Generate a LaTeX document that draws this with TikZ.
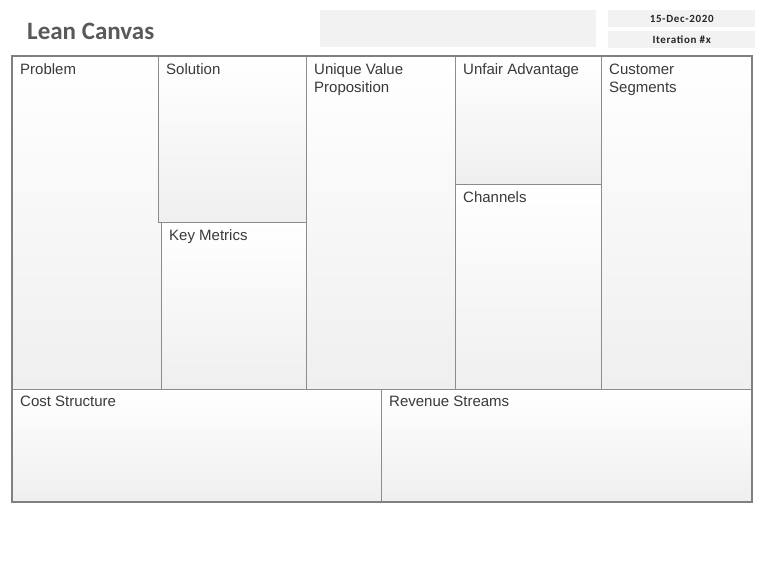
\documentclass[tikz,border=0pt]{standalone}
\usepackage{fontspec}
\setmainfont{Liberation Sans}
\newfontfamily\titlefont{Carlito}
\newfontfamily\headfont[LetterSpace=6]{Carlito}
\usetikzlibrary{positioning}

\definecolor{linegray}{HTML}{8C8C8C}
\definecolor{framegray}{HTML}{808080}
\definecolor{textgray}{HTML}{3A3A3A}
\definecolor{titlegray}{HTML}{595959}
\definecolor{boxgray}{HTML}{F2F2F2}
\definecolor{shadegray}{HTML}{EFEFEF}

\begin{document}
\begin{tikzpicture}[x=1pt, y=-1pt,
    cell/.style={draw=linegray, line width=1pt, anchor=north west, inner sep=0pt,
                 top color=white, bottom color=shadegray, middle color=white!50!shadegray},
    cell label/.style={anchor=north west, inner xsep=8pt, inner ysep=7pt, align=left,
                 text=textgray, font=\fontsize{15}{18}\selectfont},
    head box/.style={fill=boxgray, anchor=north west, inner sep=0pt}]
        \tikzstyle{every node}=[font=\small]

        \useasboundingbox (0,0) rectangle (768,576);

        % header
        \node[anchor=west, inner sep=0pt, text=titlegray,
              font=\titlefont\bfseries\fontsize{25}{28}\selectfont] (title) at (27,31) {Lean Canvas};
        \node[head box, minimum width=276pt, minimum height=37pt] (notes) at (320,10) {};
        \node[head box, minimum width=147pt, minimum height=17pt,
              font=\headfont\bfseries\fontsize{11}{12}\selectfont, text=black!85] (date) at (608,10) {15-Dec-2020};
        \node[head box, minimum width=147pt, minimum height=17pt,
              font=\headfont\bfseries\fontsize{11}{12}\selectfont, text=black!85] (iter) at (608,31) {Iteration \#x};

        % canvas cells
        \node[cell, minimum width=149pt, minimum height=333pt] (problem) at (12,56) {};
        \node[cell, minimum width=148pt, minimum height=166pt] (solution) at (158,56) {};
        \node[cell, minimum width=145pt, minimum height=167pt] (metrics) at (161,222) {};
        \node[cell, minimum width=149pt, minimum height=333pt] (uvp) at (306,56) {};
        \node[cell, minimum width=146pt, minimum height=128pt] (advantage) at (455,56) {};
        \node[cell, minimum width=146pt, minimum height=207pt] (channels) at (455,184) {};
        \node[cell, minimum width=150pt, minimum height=333pt] (segments) at (601,56) {};
        \node[cell, minimum width=369pt, minimum height=112pt] (cost) at (12,389) {};
        \node[cell, minimum width=370pt, minimum height=112pt] (revenue) at (381,389) {};

        % outer frame
        \draw[framegray, line width=2.5pt] (problem.north west) rectangle (revenue.south east);

        % labels
        \node[cell label] at (problem.north west) {Problem};
        \node[cell label] at (solution.north west) {Solution};
        \node[cell label] at (metrics.north west) {Key Metrics};
        \node[cell label] at (uvp.north west) {Unique Value\\Proposition};
        \node[cell label] at (advantage.north west) {Unfair Advantage};
        \node[cell label] at (channels.north west) {Channels};
        \node[cell label] at (segments.north west) {\vphantom{l}Customer\\Segments};
        \node[cell label] at (cost.north west) {Cost Structure};
        \node[cell label] at (revenue.north west) {Revenue Streams};

\end{tikzpicture}
\end{document}
